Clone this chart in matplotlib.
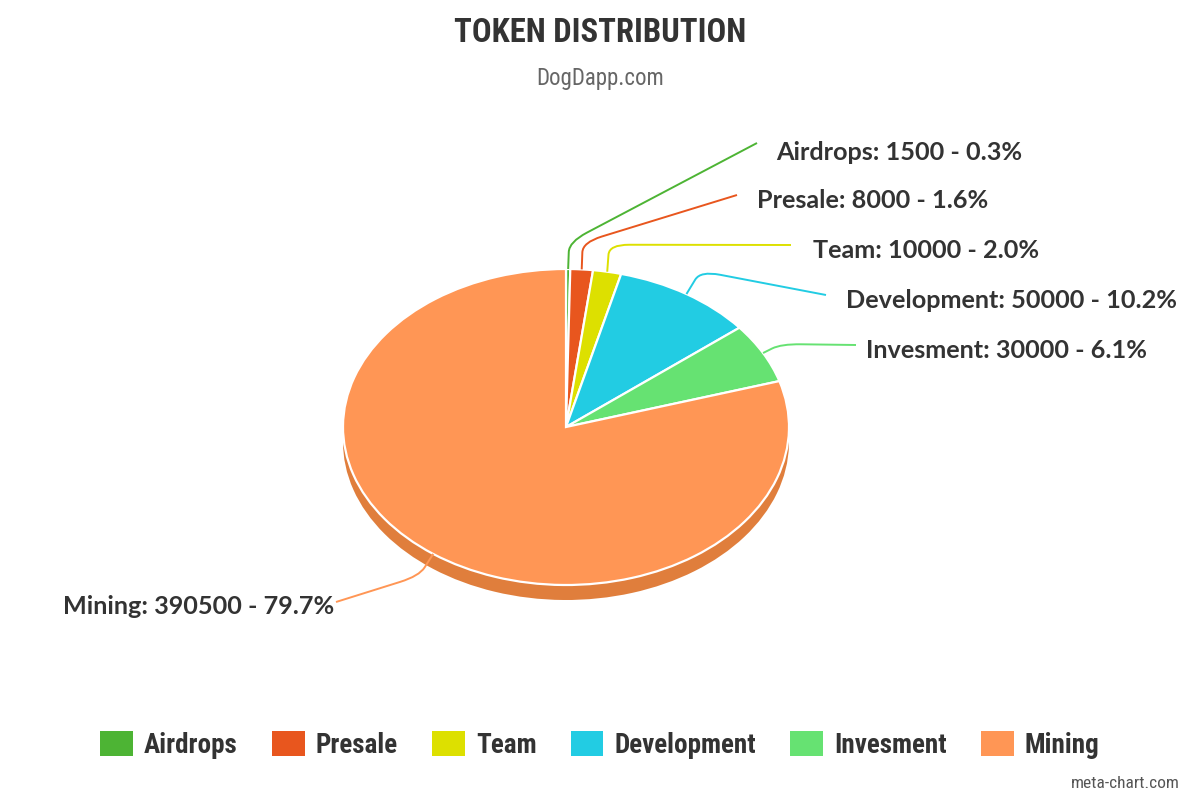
import numpy as np
import matplotlib
matplotlib.use("Agg")
import matplotlib.pyplot as plt
from matplotlib import font_manager
from matplotlib.patches import Patch
from matplotlib.path import Path
from matplotlib.patches import PathPatch

# ---- data ----
categories = ["Airdrops", "Presale", "Team", "Development", "Invesment", "Mining"]
values = [1500, 8000, 10000, 50000, 30000, 390500]
colors = ["#4DB434", "#E8561E", "#DDE000", "#22CCE3", "#66E272", "#FF9655"]
title = "TOKEN DISTRIBUTION"
subtitle = "DogDapp.com"
credit = "meta-chart.com"

W, H = 1200, 800
avail = {f.name for f in font_manager.fontManager.ttflist}
def pick(*names):
    for n in names:
        if n in avail:
            return n
    return "DejaVu Sans"
cond = pick("Roboto Condensed", "Liberation Sans Narrow", "Roboto", "DejaVu Sans")
lato = pick("Lato", "Open Sans", "DejaVu Sans")

fig = plt.figure(figsize=(12, 8), dpi=100)
fig.patch.set_facecolor("white")

# pixel overlay axes
ov = fig.add_axes([0, 0, 1, 1], zorder=3)
ov.set_xlim(0, W); ov.set_ylim(H, 0); ov.axis("off")
ov.patch.set_alpha(0)

cx, cy, rx, ry, depth = 566, 427, 223, 158, 15

def pie_axes(dy, z):
    return fig.add_axes([(cx - rx) / W, (H - cy - ry - dy) / H, 2 * rx / W, 2 * ry / H], zorder=z)

# side (depth)
side = pie_axes(depth, 1)
side.pie(values, colors=["#E07E3C"] * len(values), startangle=90, counterclock=False,
         radius=1.0, wedgeprops=dict(linewidth=0))
side.set_aspect("auto"); side.set_xlim(-1.0, 1.0); side.set_ylim(-1.0, 1.0); side.axis("off")

top = pie_axes(0, 2)
top.pie(values, colors=colors, startangle=90, counterclock=False, radius=1.0,
        wedgeprops=dict(edgecolor="white", linewidth=1.6))
top.set_aspect("auto"); top.set_xlim(-1.0, 1.0); top.set_ylim(-1.0, 1.0); top.axis("off")

# labels
total = float(sum(values))
cum = np.cumsum([0] + values[:-1])
label_pos = [(776, 152, "left"), (757, 201, "left"), (813, 251, "left"),
             (846, 301, "left"), (866, 351, "left"), (334, 607, "right")]
ends = [(757, 143), (737, 195), (791, 245), (826, 295), (856, 345), (336, 602)]
outs = [(1, -27), (1, -27), (2, -27), (14, -23), (18, -9), (-14, 22)]
for i, (cat, v) in enumerate(zip(categories, values)):
    th = 2 * np.pi * (cum[i] + v / 2) / total
    ax_, ay_ = cx + rx * np.sin(th), cy - ry * np.cos(th)
    lx, ly, ha = label_pos[i]
    pct = 100 * v / total
    ov.text(lx, ly, f"{cat}: {v} - {pct:.1f}%", fontsize=18.2, fontweight="bold",
            family=lato, color="#333333", ha=ha, va="center")
    end = ends[i]
    p1 = (ax_ + outs[i][0], ay_ + outs[i][1])
    d0 = np.array(p1) - np.array([ax_, ay_])
    d1 = np.array(end) - np.array(p1)
    r = 10
    a1 = np.array(p1) - d0 / np.linalg.norm(d0) * r
    b1 = np.array(p1) + d1 / np.linalg.norm(d1) * (r * 2)
    verts = [(ax_, ay_), tuple(a1), p1, tuple(b1), end]
    codes = [Path.MOVETO, Path.LINETO, Path.CURVE3, Path.CURVE3, Path.LINETO]
    ov.add_patch(PathPatch(Path(verts, codes), fill=False, edgecolor=colors[i], lw=1.4))

ov.text(W / 2, 33, title, fontsize=23.5, fontweight="bold", family=cond, color="#333333",
        ha="center", va="center")
ov.text(W / 2, 79, subtitle, fontsize=16.5, family=cond, color="#666666",
        ha="center", va="center")
ov.text(1180, 783, credit, fontsize=12.5, family=cond, color="#555555", ha="right", va="center")

handles = [Patch(facecolor=c, edgecolor="none") for c in colors]
leg = fig.legend(handles, categories, loc="center", bbox_to_anchor=(0.5, 1 - 745 / H),
                 ncol=6, frameon=False, handlelength=1.2, handleheight=1.0,
                 columnspacing=1.26, handletextpad=0.42,
                 prop=dict(family=cond, size=19.5, weight="bold"))
for t in leg.get_texts():
    t.set_color("#333333")

fig.savefig("out.png", dpi=100, facecolor="white")
